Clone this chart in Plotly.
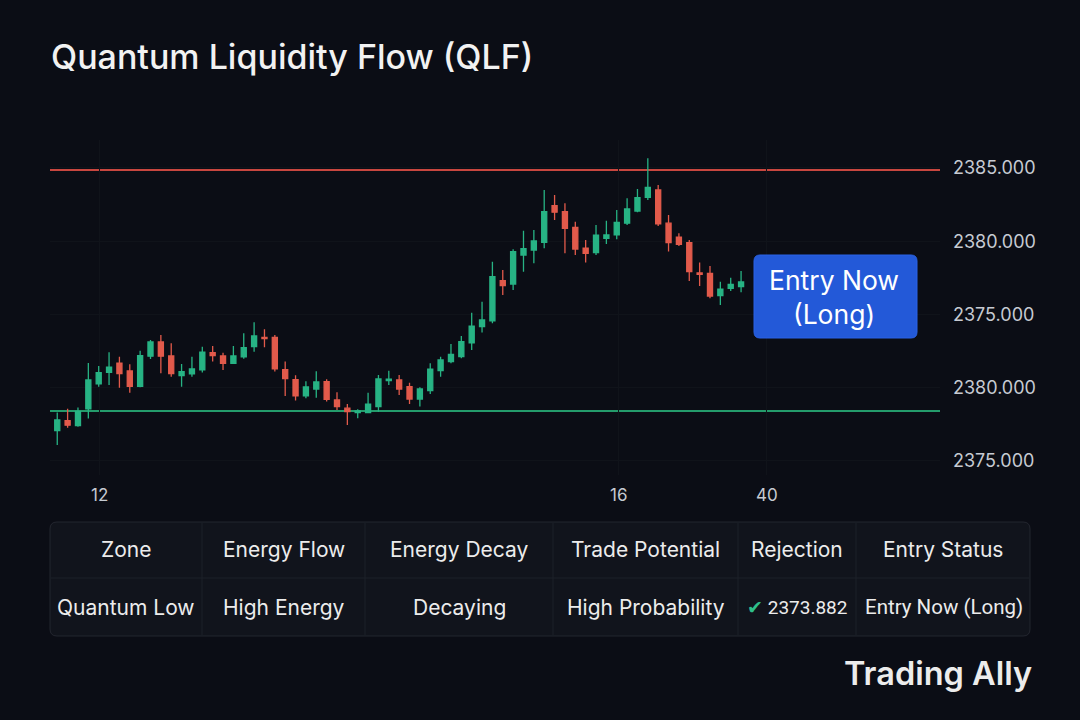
import plotly.graph_objects as go

# ---------------- data ----------------
opens = [2367.07, 2367.75, 2367.41, 2368.55, 2370.26, 2371.05, 2371.67, 2371.14, 2370.10, 2372.15,
         2373.12, 2372.17, 2370.82, 2370.94, 2371.21, 2372.39, 2372.17, 2371.67, 2372.10, 2372.80,
         2373.44, 2373.44, 2371.23, 2370.55, 2369.44, 2369.91, 2370.41, 2369.16, 2368.60, 2368.30,
         2368.30, 2368.71, 2370.48, 2370.53, 2370.07, 2369.23, 2369.80, 2371.16, 2371.78, 2372.12,
         2373.07, 2374.17, 2374.56, 2377.31, 2377.08, 2379.06, 2379.40, 2379.93, 2382.43, 2382.02,
         2380.95, 2379.52, 2379.22, 2380.20, 2380.43, 2381.23, 2382.06, 2383.00, 2383.50, 2381.23,
         2380.27, 2379.90, 2377.83, 2377.81, 2376.28, 2376.79, 2376.90]
highs = [2368.30, 2368.57, 2368.64, 2371.69, 2371.48, 2372.42, 2372.12, 2371.60, 2372.53, 2373.26,
         2373.60, 2373.03, 2371.62, 2372.12, 2372.80, 2372.85, 2372.39, 2372.85, 2373.72, 2374.47,
         2373.99, 2373.60, 2371.78, 2370.85, 2370.44, 2371.12, 2370.58, 2369.69, 2368.89, 2368.53,
         2369.66, 2370.87, 2371.16, 2370.87, 2370.34, 2370.03, 2371.67, 2372.12, 2372.99, 2373.53,
         2375.12, 2375.87, 2378.60, 2378.04, 2379.45, 2380.72, 2380.77, 2383.50, 2383.16, 2382.59,
         2381.33, 2380.08, 2381.11, 2381.40, 2382.13, 2382.93, 2383.57, 2385.66, 2383.84, 2381.79,
         2380.54, 2380.08, 2378.54, 2378.31, 2377.24, 2377.51, 2377.97]
lows = [2366.09, 2367.27, 2367.34, 2367.89, 2370.07, 2370.19, 2370.00, 2369.66, 2370.03, 2371.96,
        2370.99, 2370.75, 2370.07, 2370.75, 2371.03, 2371.78, 2371.21, 2371.62, 2371.98, 2372.46,
        2372.76, 2371.10, 2369.44, 2369.12, 2369.28, 2369.32, 2369.05, 2368.48, 2367.46, 2367.91,
        2368.26, 2368.36, 2370.19, 2369.51, 2368.89, 2368.71, 2369.57, 2370.75, 2371.67, 2372.01,
        2372.58, 2373.76, 2374.40, 2376.33, 2376.67, 2377.92, 2378.49, 2379.52, 2381.45, 2379.18,
        2379.06, 2378.54, 2379.06, 2379.81, 2380.13, 2381.11, 2381.98, 2382.82, 2381.04, 2379.29,
        2379.68, 2377.29, 2376.95, 2376.11, 2375.65, 2376.60, 2376.51]
closes = [2367.80, 2367.44, 2368.39, 2370.53, 2371.03, 2371.40, 2370.96, 2370.10, 2372.19, 2373.12,
          2372.15, 2370.96, 2371.10, 2371.28, 2372.42, 2372.19, 2371.67, 2372.17, 2372.73, 2373.53,
          2373.35, 2371.28, 2370.62, 2369.44, 2370.05, 2370.39, 2369.21, 2368.71, 2368.36, 2368.41,
          2368.87, 2370.60, 2370.58, 2369.91, 2369.23, 2369.91, 2371.26, 2371.89, 2372.28, 2373.14,
          2374.21, 2374.62, 2377.58, 2376.97, 2379.29, 2379.49, 2380.02, 2382.02, 2381.98, 2380.88,
          2379.47, 2379.18, 2380.41, 2380.43, 2381.29, 2382.20, 2382.97, 2383.68, 2381.18, 2379.90,
          2379.79, 2377.92, 2377.74, 2376.26, 2376.72, 2377.06, 2377.22]
bar_index = list(range(len(opens)))

resistance_level = 2384.86
support_level = 2368.41

y_tick_values = [2385, 2380, 2375, 2370, 2365]
y_tick_labels = ["2385.000", "2380.000", "2375.000", "2380.000", "2375.000"]
x_tick_values = [4.1, 54.2, 68.5]
x_tick_labels = ["12", "16", "40"]

table_headers = ["Zone", "Energy Flow", "Energy Decay", "Trade Potential", "Rejection", "Entry Status"]
table_values = ["Quantum Low", "High Energy", "Decaying", "High Probability",
                "<span style='color:#2fbf8a'>✔</span> 2373.882", "Entry Now (Long)"]
table_col_widths = [152, 163, 188, 185, 118, 174]

title_text = "Quantum Liquidity Flow (QLF)"
signal_text = "Entry Now<br>(Long)"
brand_text = "Trading Ally"

# ---------------- style ----------------
BG = "#0b0d15"
GREEN = "#27b384"
RED = "#e25a4b"
W, H = 1080, 720


def rounded_rect(px0, py0, px1, py1, r):
    """Rounded rectangle path in paper coords from pixel box (top-left origin)."""
    x0, x1 = px0 / W, px1 / W
    y0, y1 = 1 - py1 / H, 1 - py0 / H
    rx, ry = r / W, r / H
    return (f"M {x0+rx},{y0} L {x1-rx},{y0} Q {x1},{y0} {x1},{y0+ry} "
            f"L {x1},{y1-ry} Q {x1},{y1} {x1-rx},{y1} L {x0+rx},{y1} "
            f"Q {x0},{y1} {x0},{y1-ry} L {x0},{y0+ry} Q {x0},{y0} {x0+rx},{y0} Z")


fig = go.Figure()

fig.add_trace(go.Candlestick(
    x=bar_index, open=opens, high=highs, low=lows, close=closes,
    increasing=dict(line=dict(color=GREEN, width=1.3), fillcolor=GREEN),
    decreasing=dict(line=dict(color=RED, width=1.3), fillcolor=RED),
    whiskerwidth=0, showlegend=False, hoverinfo="skip",
))

shapes = [
    dict(type="line", xref="x domain", yref="y", x0=0, x1=1,
         y0=resistance_level, y1=resistance_level,
         line=dict(color="#c8463f", width=2), layer="below"),
    dict(type="line", xref="x domain", yref="y", x0=0, x1=1,
         y0=support_level, y1=support_level,
         line=dict(color="#249b6b", width=2), layer="below"),
    dict(type="path", xref="paper", yref="paper", path=rounded_rect(754, 255, 917, 338, 6),
         fillcolor="#2359d8", line=dict(color="#2a63e6", width=1)),
]

annotations = [
    dict(text=title_text, xref="paper", yref="paper", x=49 / W, y=1 - 57 / H,
         xanchor="left", yanchor="middle", showarrow=False,
         font=dict(family="Inter", size=34, color="#f2f2f2", weight=500)),
    dict(text=signal_text, xref="paper", yref="paper", x=834 / W, y=1 - 296.5 / H,
         xanchor="center", yanchor="middle", showarrow=False, align="center",
         font=dict(family="Inter", size=26.5, color="#ffffff")),
    dict(text=brand_text, xref="paper", yref="paper", x=1034 / W, y=1 - 673 / H,
         xanchor="right", yanchor="middle", showarrow=False,
         font=dict(family="Inter", size=32.5, color="#ececec", weight=600)),
]

# ---------------- table (shapes + annotations) ----------------
tx0, ty0, tx1, ty1 = 50, 522, 1030, 636
ymid = 578
shapes.append(dict(type="path", xref="paper", yref="paper",
                   path=rounded_rect(tx0, ty0, tx1, ty1, 7),
                   fillcolor="#11141c", line=dict(color="#23262f", width=1), layer="below"))
shapes.append(dict(type="line", xref="paper", yref="paper",
                   x0=(tx0 + 1) / W, x1=(tx1 - 1) / W, y0=1 - ymid / H, y1=1 - ymid / H,
                   line=dict(color="#1d2029", width=1)))
edge = tx0
for i, wcol in enumerate(table_col_widths):
    left, right = edge, edge + wcol
    if i > 0:
        shapes.append(dict(type="line", xref="paper", yref="paper",
                           x0=left / W, x1=left / W, y0=1 - (ty1 - 1) / H, y1=1 - (ty0 + 1) / H,
                           line=dict(color="#1d2029", width=1)))
    cx = (left + right) / 2
    annotations.append(dict(text=table_headers[i], xref="paper", yref="paper",
                            x=cx / W, y=1 - 549 / H, xanchor="center", yanchor="middle",
                            showarrow=False,
                            font=dict(family="Inter", size=21, color="#ececec")))
    narrow = i >= 4
    annotations.append(dict(text=table_values[i], xref="paper", yref="paper",
                            x=(cx + 1) / W if i == 5 else cx / W, y=1 - 607 / H,
                            xanchor="center", yanchor="middle",
                            showarrow=False,
                            font=dict(family="Roboto" if narrow else "Inter",
                                      size=(19 if i == 4 else 20.5) if narrow else 21,
                                      color="#ececec")))
    edge = right

fig.update_layout(
    width=W, height=H,
    margin=dict(l=0, r=0, t=0, b=0),
    paper_bgcolor=BG, plot_bgcolor=BG,
    shapes=shapes, annotations=annotations,
    xaxis=dict(domain=[50 / W, 940 / W], range=[-0.7, 85.2],
               rangeslider=dict(visible=False),
               tickmode="array", tickvals=x_tick_values, ticktext=x_tick_labels,
               tickfont=dict(family="Inter", size=17, color="#c6cad2"),
               showgrid=True, gridcolor="#10131a", gridwidth=1,
               zeroline=False, showline=False, ticks="", ticklabelstandoff=8),
    yaxis=dict(domain=[1 - 475 / H, 1 - 140 / H], range=[2364.04, 2386.91],
               side="right",
               tickmode="array", tickvals=y_tick_values, ticktext=y_tick_labels,
               tickfont=dict(family="Inter", size=18, color="#c6cad2"),
               showgrid=True, gridcolor="#10131a", gridwidth=1,
               zeroline=False, showline=False, ticks="", ticklabelstandoff=12),
    font=dict(family="Inter", color="#ececec"),
)

fig.write_html("out.html")
